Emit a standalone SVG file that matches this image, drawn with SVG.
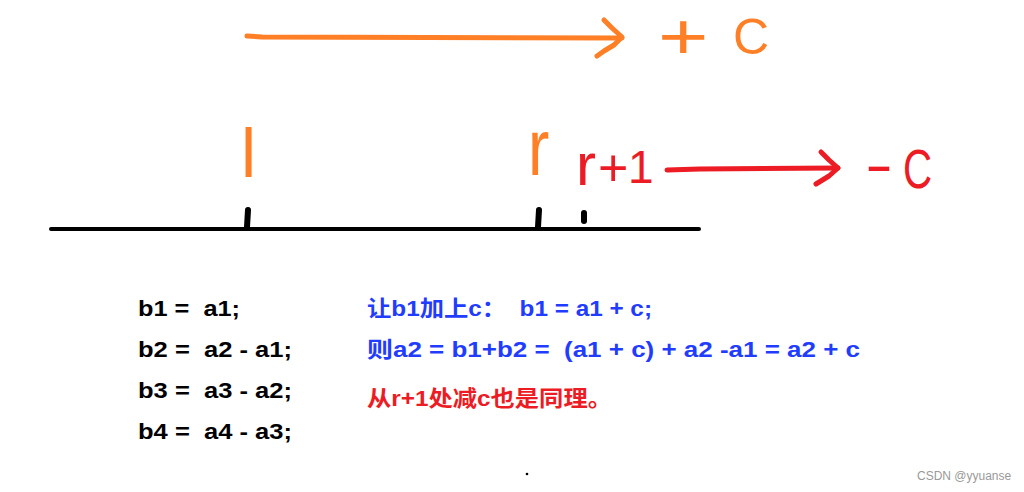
<svg xmlns="http://www.w3.org/2000/svg" width="1024" height="492" viewBox="0 0 1024 492">
<style>
.o{stroke:#ff7f27;fill:none;stroke-width:5;stroke-linecap:round;stroke-linejoin:round}
.rd{stroke:#ed1c24;fill:none;stroke-width:5;stroke-linecap:round;stroke-linejoin:round}
.k{stroke:#000;fill:none;stroke-width:4;stroke-linecap:round}
.tk{stroke:#000;fill:none;stroke-width:6;stroke-linecap:round}
.hw{font-family:"Liberation Sans",sans-serif;font-weight:normal}
.ho{fill:#ff7f27}
.hr{fill:#ed1c24}
.t{font-family:"Liberation Sans","Noto Sans CJK SC",sans-serif;font-weight:bold;font-size:22px}
.bk{fill:#000}
.bl{fill:#1f3cff}
.re{fill:#ed1c24}
</style>
<rect width="1024" height="492" fill="#fff"/>
<g id="connectors">
<g id="arrow-plus">
<path class="o" d="M247 36 L262 37 L622 38"/>
<polyline class="o" points="604,20 612,28 622,37 614,45 604,51 597,56"/>
</g>
<g id="arrow-minus">
<path class="rd" d="M667 170 L700 169 L838 168"/>
<polyline class="rd" points="821,152 829,160 838,168 829,176 816,184"/>
</g>
</g>
<g id="axis">
<line class="k" x1="51" y1="229" x2="699" y2="229"/>
<path class="tk" d="M248 210 L247 227"/>
<path class="tk" d="M539 210 L538 227"/>
<path class="tk" d="M584 213 L584 221"/>
</g>
<g id="label-plus-c">
<text class="hw ho" transform="translate(658 59) scale(1.35 1)" font-size="64">+</text>
<text class="hw ho" x="733" y="54" font-size="50">C</text>
</g>
<g id="label-l">
<text class="hw ho" x="241" y="177" font-size="68">l</text>
</g>
<g id="label-r">
<text class="hw ho" transform="translate(528 175) scale(0.8 1)" font-size="80">r</text>
</g>
<g id="label-r1">
<text class="hw hr" x="576" y="185" font-size="60">r</text>
<text class="hw hr" x="598" y="186" font-size="52">+</text>
<text class="hw hr" x="628" y="183" font-size="46">1</text>
</g>
<g id="label-minus-c">
<text class="hw hr" transform="translate(865 184) scale(1.5 1)" font-size="56">-</text>
<text class="hw hr" transform="translate(903 188) scale(0.72 1)" font-size="56">C</text>
</g>
<g id="formulas-left">
<text class="t bk" x="138" y="316" textLength="102" lengthAdjust="spacingAndGlyphs" xml:space="preserve">b1 =  a1;</text>
<text class="t bk" x="138" y="357" textLength="154" lengthAdjust="spacingAndGlyphs" xml:space="preserve">b2 =  a2 - a1;</text>
<text class="t bk" x="138" y="398" textLength="154" lengthAdjust="spacingAndGlyphs" xml:space="preserve">b3 =  a3 - a2;</text>
<text class="t bk" x="138" y="439" textLength="154" lengthAdjust="spacingAndGlyphs" xml:space="preserve">b4 =  a4 - a3;</text>
</g>
<g id="formulas-right">
<text class="t bl" x="367" y="316" textLength="285" lengthAdjust="spacingAndGlyphs" xml:space="preserve">让b1加上c：  b1 = a1 + c;</text>
<text class="t bl" x="367" y="357" textLength="493" lengthAdjust="spacingAndGlyphs" xml:space="preserve">则a2 = b1+b2 =  (a1 + c) + a2 -a1 = a2 + c</text>
<text class="t re" x="367" y="406" textLength="245" lengthAdjust="spacingAndGlyphs">从r+1处减c也是同理。</text>
</g>
<circle cx="527" cy="474" r="1.3" fill="#000"/>
<text x="917" y="480" font-family="Liberation Sans, sans-serif" font-size="12" fill="#999">CSDN @yyuanse</text>
</svg>
